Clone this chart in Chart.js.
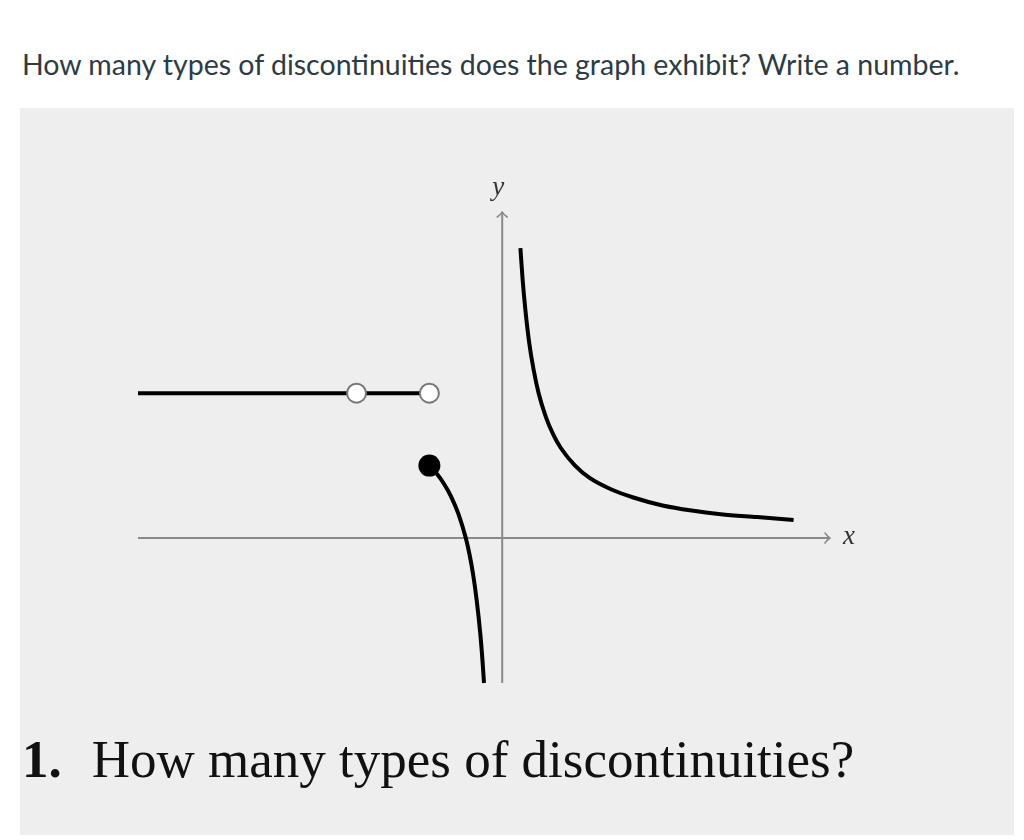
<!DOCTYPE html>
<html>
<head>
<meta charset="utf-8">
<script src="https://cdn.jsdelivr.net/npm/chart.js@4"></script>
<style>
  html, body { margin: 0; padding: 0; background: #fff; }
  body { width: 1024px; height: 840px; position: relative; overflow: hidden; }
  #question {
    position: absolute; left: 22px; top: 47px;
    font-family: Lato, sans-serif; font-size: 28.5px; color: #2d3b45;
    white-space: nowrap;
  }
  #panel {
    position: absolute; left: 20px; top: 108px; width: 994px; height: 727px;
    background: #eeeeee;
  }
  #footer {
    position: absolute; left: 22px; top: 729px;
    font-family: "Liberation Serif", serif; font-size: 53px; color: #111;
    white-space: nowrap;
  }
  #footer b { margin-right: 30px; }
  #wrap { position: absolute; left: 0; top: 0; width: 1024px; height: 840px; }
</style>
</head>
<body>
<div id="question">How many types of discontinuities does the graph exhibit? Write a number.</div>
<div id="panel"></div>
<div id="footer"><b>1.</b>How many types of discontinuities?</div>
<div id="wrap"><canvas id="graph"></canvas></div>
<script>
'use strict';

// left piece: constant y = 2 up to the holes
let flatX = [-5, -2, -1];
let flatY = [2, 2, 2];

// open holes
let holeX = [-2, -1];
let holeY = [2, 2];

// closed dot at start of the middle branch
let dotX = [-1];
let dotY = [1];

// middle branch (falls off to -infinity near x = 0)
let midX = [-1, -0.9, -0.8, -0.7, -0.6, -0.5, -0.45, -0.4, -0.35, -0.3, -0.27, -0.25];
let midY = [1, 0.89, 0.75, 0.57, 0.33, 0, -0.22, -0.5, -0.86, -1.33, -1.7, -2];

// right branch
let rightX = [0.25, 0.28, 0.32, 0.37, 0.43, 0.5, 0.6, 0.7, 0.8, 1, 1.2, 1.5, 1.8, 2.2, 2.6, 3, 3.5, 4];
let rightY = [4, 3.57, 3.13, 2.7, 2.33, 2, 1.67, 1.43, 1.25, 1, 0.83, 0.67, 0.56, 0.45, 0.38, 0.33, 0.29, 0.25];

// axes extents
let xAxisRange = [-5, 4.5];
let yAxisRange = [-2, 4.5];

function pts(xs, ys) {
    return xs.map(function (x, i) { return { x: x, y: ys[i] }; });
}

const axisGray = '#8a8a8a';

// arrowheads and axis letters
const axisDecor = {
    id: 'axisDecor',
    afterDatasetsDraw(chart) {
        const ctx = chart.ctx;
        const xs = chart.scales.x, ys = chart.scales.y;
        const ox = xs.getPixelForValue(0), oy = ys.getPixelForValue(0);
        const xt = xs.getPixelForValue(xAxisRange[1]);
        const yt = ys.getPixelForValue(yAxisRange[1]);
        ctx.save();
        ctx.strokeStyle = axisGray;
        ctx.lineWidth = 1.6;
        ctx.lineCap = 'round';
        ctx.beginPath();
        ctx.moveTo(xt - 5, oy - 5); ctx.quadraticCurveTo(xt - 2, oy - 1, xt, oy);
        ctx.moveTo(xt - 5, oy + 5); ctx.quadraticCurveTo(xt - 2, oy + 1, xt, oy);
        ctx.moveTo(ox - 5, yt + 5); ctx.quadraticCurveTo(ox - 1, yt + 2, ox, yt);
        ctx.moveTo(ox + 5, yt + 5); ctx.quadraticCurveTo(ox + 1, yt + 2, ox, yt);
        ctx.stroke();
        ctx.fillStyle = '#333';
        ctx.font = 'italic 27px "Liberation Serif", serif';
        ctx.textAlign = 'center';
        ctx.textBaseline = 'middle';
        ctx.fillText('x', xt + 19, oy - 1);
        ctx.fillText('y', ox - 4, yt - 24);
        ctx.restore();
    }
};

new Chart(document.querySelector('#graph'), {
    type: 'scatter',
    data: {
        datasets: [
            {
                label: 'holes',
                data: pts(holeX, holeY),
                pointRadius: 9.5,
                pointBackgroundColor: '#ffffff',
                pointBorderColor: '#777777',
                pointBorderWidth: 2,
                showLine: false,
                order: 0
            },
            {
                label: 'dot',
                data: pts(dotX, dotY),
                pointRadius: 11,
                pointBackgroundColor: '#000000',
                pointBorderColor: '#000000',
                pointBorderWidth: 0,
                showLine: false,
                order: 1
            },
            {
                label: 'flat',
                data: pts(flatX, flatY),
                showLine: true,
                borderColor: '#000',
                borderWidth: 4,
                pointRadius: 0,
                order: 2
            },
            {
                label: 'middle',
                data: pts(midX, midY),
                showLine: true,
                borderColor: '#000',
                borderWidth: 4,
                pointRadius: 0,
                cubicInterpolationMode: 'monotone',
                order: 2
            },
            {
                label: 'right',
                data: pts(rightX, rightY),
                showLine: true,
                borderColor: '#000',
                borderWidth: 4,
                pointRadius: 0,
                cubicInterpolationMode: 'monotone',
                order: 2
            },
            {
                label: 'x axis',
                data: pts(xAxisRange, [0, 0]),
                showLine: true,
                borderColor: axisGray,
                borderWidth: 2,
                pointRadius: 0,
                order: 5
            },
            {
                label: 'y axis',
                data: pts([0, 0], yAxisRange),
                showLine: true,
                borderColor: axisGray,
                borderWidth: 2,
                pointRadius: 0,
                order: 5
            }
        ]
    },
    options: {
        responsive: true,
        maintainAspectRatio: false,
        animation: false,
        clip: false,
        layout: {
            padding: { left: 138, right: 194, top: 212, bottom: 157 }
        },
        scales: {
            x: { type: 'linear', min: xAxisRange[0], max: xAxisRange[1], display: false },
            y: { type: 'linear', min: yAxisRange[0], max: yAxisRange[1], display: false }
        },
        plugins: {
            legend: { display: false },
            tooltip: { enabled: false }
        }
    },
    plugins: [axisDecor]
});
</script>
</body>
</html>
